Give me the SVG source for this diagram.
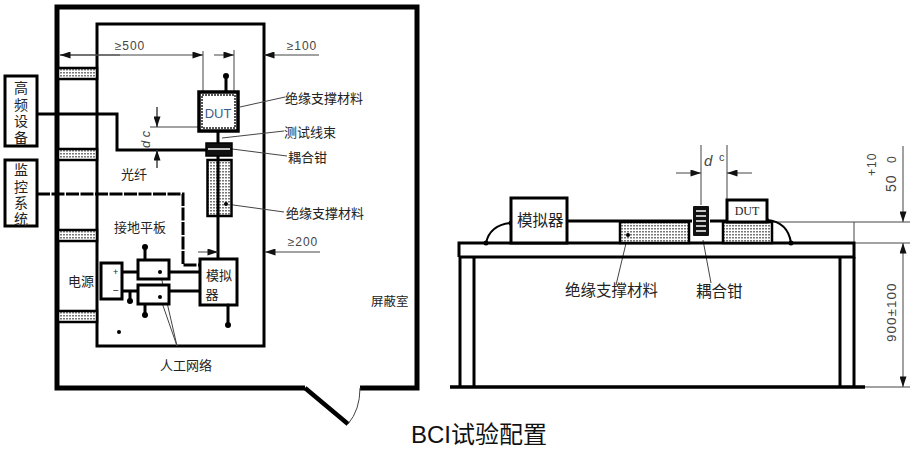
<svg xmlns="http://www.w3.org/2000/svg" width="910" height="450" viewBox="0 0 910 450">
<style>
text{font-family:"Liberation Sans","Noto Sans CJK SC",sans-serif;fill:#222;font-size:13px}
.m{text-anchor:middle}
.box{fill:#fff;stroke:#000;stroke-width:3}
.hv{fill:none;stroke:#000;stroke-width:4.5}
.w3{fill:none;stroke:#000;stroke-width:3}
.w2{fill:none;stroke:#000;stroke-width:2}
.thin{fill:none;stroke:#444;stroke-width:1}
.hatch{fill:url(#dots);stroke:#000;stroke-width:2.5}
.dim{font-size:12px;fill:#444;letter-spacing:1px}
.dot{fill:#000}
</style>
<defs>
<pattern id="dots" width="3" height="3" patternUnits="userSpaceOnUse"><rect width="3" height="3" fill="#fff"/><rect width="2" height="1.5" fill="#777"/></pattern>
<marker id="a" viewBox="0 0 12 8" refX="12" refY="4" markerWidth="12" markerHeight="7" markerUnits="userSpaceOnUse" orient="auto"><path d="M0 0L12 4L0 8Z" fill="#111"/></marker>
</defs>
<rect width="910" height="450" fill="#fff"/>
<g id="room">
<path class="hv" d="M305 388H57V7H417V388H360" style="stroke-width:5"/>
<path class="hv" d="M305 388L348 424"/>
<path class="thin" d="M360 388Q360 410 348 424"/>
</g>
<g id="plate"><rect x="97" y="24" width="167" height="322" fill="none" stroke="#000" stroke-width="3"/></g>
<g id="feedthroughs">
<rect class="hatch" x="58" y="68" width="39" height="11"/>
<rect class="hatch" x="58" y="149" width="39" height="11"/>
<rect class="hatch" x="58" y="230" width="39" height="11"/>
<rect class="hatch" x="58" y="311" width="39" height="11"/>
</g>
<g id="connectors">
<path class="w3" d="M37 114H117V150H206"/>
<path class="w3" d="M37 194H183V265H200" stroke-dasharray="13 1.500"/>
<path class="w3" d="M218 127V259"/>
<path class="w3" d="M226 76V91M145 248V260M145 304V315M130 291V301M122 291H138M122 272H138M169 272H200M169 291H200M228 305V325"/>
<path class="thin" d="M240 107L285 97M222 138L284 131M232 149L287 156M226 204L284 212M160 272L177 346M160 297L177 346"/>
<path class="thin" d="M628 235L616 285M703 240L711 283"/>
</g>
<g id="dimensions">
<path class="thin" d="M203 51V91M234 50V91M150 127H198M157 107V127M157 150V168" />
<path class="thin" d="M60 55H203" marker-end="url(#a)"/>
<path class="thin" d="M120 55H60" marker-end="url(#a)"/>
<path class="thin" d="M214 55H234" marker-end="url(#a)"/>
<path class="thin" d="M319 55H264" marker-end="url(#a)"/>
<path class="thin" d="M198 252H218" marker-end="url(#a)"/>
<path class="thin" d="M320 252H265" marker-end="url(#a)"/>
<path class="thin" d="M157 107V127" marker-end="url(#a)"/>
<path class="thin" d="M157 168V150" marker-end="url(#a)"/>
<path class="thin" d="M701 145V205M727 145V200M727 222H910M854 222V243M854 243H910M865 387H910"/>
<path class="thin" d="M676 173H701" marker-end="url(#a)"/>
<path class="thin" d="M752 173H727" marker-end="url(#a)"/>
<path class="thin" d="M903 146V222" marker-end="url(#a)"/>
<path class="thin" d="M903 315V243" marker-end="url(#a)"/>
<path class="thin" d="M903 315V387" marker-end="url(#a)"/>
<text class="dim" x="130" y="50" text-anchor="middle">≥500</text>
<text class="dim" x="302" y="50" text-anchor="middle">≥100</text>
<text class="dim" x="303" y="246" text-anchor="middle">≥200</text>
<text class="dim" font-style="italic" transform="translate(150 148) rotate(-90)" style="font-size:13px;letter-spacing:0">d c</text>
<text class="dim" font-style="italic" x="704" y="166" style="font-size:15px">d</text>
<text class="dim" x="719" y="161" style="font-size:11px">c</text>
<text class="dim" transform="translate(896 192) rotate(-90)" style="font-size:14px">50</text>
<text class="dim" transform="translate(876 176) rotate(-90)">+10</text>
<text class="dim" transform="translate(896 163) rotate(-90)">0</text>
<text class="dim" transform="translate(896 342) rotate(-90)" style="font-size:13.500px">900±100</text>
</g>
<g id="hf-equipment"><rect class="box" x="5" y="76" width="32" height="70"/>
<text class="m" x="21" y="93" style="font-size:14px">高</text><text class="m" x="21" y="110" style="font-size:14px">频</text><text class="m" x="21" y="126" style="font-size:14px">设</text><text class="m" x="21" y="143" style="font-size:14px">备</text></g>
<g id="monitor"><rect class="box" x="5" y="160" width="32" height="66"/>
<text class="m" x="21" y="175" style="font-size:14px">监</text><text class="m" x="21" y="192" style="font-size:14px">控</text><text class="m" x="21" y="208" style="font-size:14px">系</text><text class="m" x="21" y="224" style="font-size:14px">统</text></g>
<g id="dut">
<rect x="199" y="92" width="39" height="39" fill="#fff" stroke="#000" stroke-width="3.500"/>
<rect x="202" y="95" width="33" height="33" fill="#fff" stroke="#555" stroke-width="2" stroke-dasharray="2 1"/>
<text class="m" x="218" y="118" style="font-size:13px;fill:#3a5f8a">DUT</text>
<circle class="dot" cx="226" cy="76" r="3"/>
</g>
<g id="clamp"><rect x="206" y="143" width="26" height="13" fill="#111" stroke="#000" stroke-width="1.500"/><path d="M208 149H230" stroke="#fff" stroke-width="1.500"/></g>
<g id="support"><rect class="hatch" x="207.500" y="160" width="24" height="56"/><path class="w3" d="M218 159V217"/><circle class="dot" cx="226" cy="204" r="2"/></g>
<g id="simulator"><rect class="box" x="200" y="259" width="37" height="46"/>
<text class="m" x="219" y="280">模拟</text><text class="m" x="212" y="299">器</text><circle class="dot" cx="228" cy="325" r="3"/><circle class="dot" cx="228" cy="305" r="1.500"/></g>
<g id="power"><rect class="box" x="101" y="263" width="21" height="36"/><text x="113" y="275" style="font-size:9px">+</text><text x="113" y="294" style="font-size:10px">−</text><circle class="dot" cx="130" cy="301" r="3"/></g>
<g id="network1"><rect class="box" x="138" y="260" width="31" height="19"/><circle class="dot" cx="145" cy="247" r="3"/><circle class="dot" cx="160" cy="272" r="2"/></g>
<g id="network2"><rect class="box" x="138" y="285" width="31" height="19"/><circle class="dot" cx="145" cy="315" r="3"/><circle class="dot" cx="160" cy="297" r="2"/></g>
<circle class="dot" cx="119" cy="332" r="2"/>
<g id="labels-left">
<text x="285" y="103">绝缘支撑材料</text>
<text x="284" y="137">测试线束</text>
<text x="288" y="162">耦合钳</text>
<text x="286" y="218">绝缘支撑材料</text>
<text x="121" y="179">光纤</text>
<text x="114" y="232">接地平板</text>
<text x="68" y="286">电源</text>
<text x="371" y="306" style="font-size:12.500px">屏蔽室</text>
<text x="160" y="370">人工网络</text>
</g>
<g id="table">
<path class="w3" d="M459 257V243H854V257H459"/>
<path class="w3" d="M460 257V387M474 257V387M840 257V387M854 257V387"/>
<path class="hv" d="M450 387H865" style="stroke-width:3.500"/>
</g>
<g id="right-connectors">
<path class="w3" d="M567 221H692M710 221H727"/>
<path class="w2" d="M486 243Q490 225 511 223M767 220Q788 222 791 243"/>
<circle class="dot" cx="486" cy="243" r="2.500"/><circle class="dot" cx="511" cy="223" r="2.500"/><circle class="dot" cx="767" cy="220" r="2"/><circle class="dot" cx="791" cy="243" r="2.500"/>
</g>
<g id="r-simulator"><rect class="box" x="511" y="198" width="56" height="45"/><text x="517" y="226" style="font-size:15.500px">模拟器</text></g>
<g id="r-support1"><rect class="hatch" x="620" y="222" width="69" height="21"/><circle class="dot" cx="628" cy="235" r="2"/></g>
<g id="r-clamp"><rect x="693" y="206" width="16" height="30" rx="1" fill="#111"/><path d="M696 211H706M696 216H706M696 221H706M696 226H706M696 231H706" stroke="#fff" stroke-width="1.500"/></g>
<g id="r-support2"><rect class="hatch" x="723" y="222" width="49" height="21"/></g>
<g id="r-dut"><rect class="box" x="727" y="200" width="40" height="22"/><text class="m" x="747" y="215" style="font-family:'Liberation Serif','Noto Sans CJK SC',serif;font-size:12px">DUT</text></g>
<g id="labels-right">
<text x="565" y="296" style="font-size:15.500px">绝缘支撑材料</text>
<text x="696" y="297" style="font-size:15.500px">耦合钳</text>
<text x="411" y="443" style="font-size:24px;fill:#111">BCI试验配置</text>
</g>
</svg>
